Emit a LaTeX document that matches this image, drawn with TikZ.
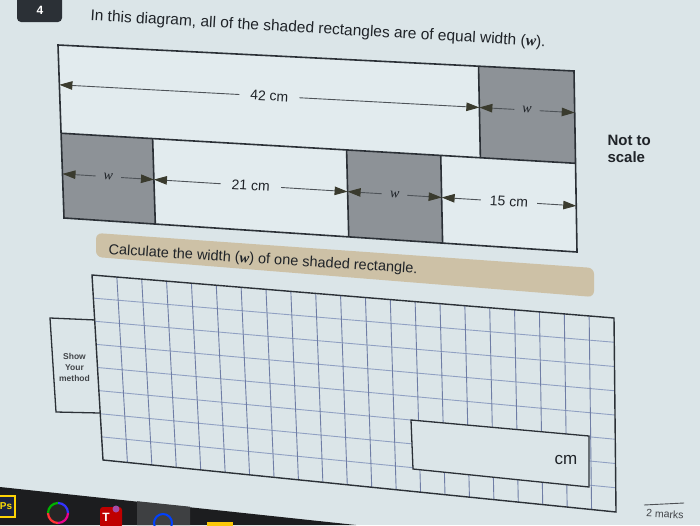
\documentclass[tikz,border=0pt]{standalone}
\usepackage{fontspec}
\setmainfont{Liberation Sans}
\newfontfamily\serifw{Liberation Serif}
\usetikzlibrary{calc,arrows.meta}
\definecolor{bg}{HTML}{DBE5E8}
\definecolor{wcol}{HTML}{E2EBEE}
\definecolor{shadec}{HTML}{8D9297}
\definecolor{bord}{HTML}{2B3036}
\definecolor{txt}{HTML}{1F2328}
\definecolor{lnc}{HTML}{4E5358}
\definecolor{tipc}{HTML}{3A3B2E}
\definecolor{bandc}{HTML}{CDC1A6}
\definecolor{gvc}{HTML}{6F7DA5}
\definecolor{ghc}{HTML}{90A0C2}
\definecolor{tbc}{HTML}{1C1D1F}
\definecolor{tbc2}{HTML}{3E4042}
\definecolor{psbg}{HTML}{1A2340}
\tikzset{
  bordln/.style={draw=bord, line width=1.6pt, line join=miter},
  dimln/.style={draw=lnc, line width=0.9pt,
    arrows={Triangle[length=13pt,width=8.5pt,color=tipc]-Triangle[length=13pt,width=8.5pt,color=tipc]}},
  dimlab/.style={sloped, text=txt, inner xsep=9pt, inner ysep=1pt, font=\fontsize{14}{16}\selectfont},
  wlab/.style={dimlab, inner xsep=8pt, font=\fontsize{14}{16}\selectfont\serifw\itshape},
  gv/.style={draw=gvc, line width=0.9pt},
  gh/.style={draw=ghc, line width=0.9pt},
}
\begin{document}
\begin{tikzpicture}[x=1pt,y=-1pt]
\useasboundingbox (0,0) rectangle (700,525);
\fill[bg] (0,0) rectangle (700,525);

% question number
\fill[bord, rounded corners=4pt] (17,-4) rectangle (62,22);
\node[text=white, font=\bfseries\fontsize{12}{14}\selectfont] (qn) at (40,10) {4};

% title
\node[rotate=-3.3, text=txt, font=\fontsize{15.5}{18}\selectfont] (title) at (318,29.5)
  {In this diagram, all of the shaded rectangles are of equal width ({\serifw\bfseries\itshape w}).};

% diagram corners
\coordinate (dTL) at (58,45);
\coordinate (dTR) at (574,71);
\coordinate (dBL) at (64,218);
\coordinate (dBR) at (577,252);
\coordinate (mL) at ($(dTL)!0.51!(dBL)$);
\coordinate (mR) at ($(dTR)!0.51!(dBR)$);
\coordinate (aL) at ($(dTL)!0.23!(dBL)$);
\coordinate (aR) at ($(dTR)!0.23!(dBR)$);
\coordinate (bL) at ($(dTL)!0.745!(dBL)$);
\coordinate (bR) at ($(dTR)!0.745!(dBR)$);
\coordinate (t0) at ($(dTL)!0.815!(dTR)$);
\coordinate (m0) at ($(mL)!0.815!(mR)$);
\coordinate (a0) at ($(aL)!0.815!(aR)$);
\coordinate (m1) at ($(mL)!0.178!(mR)$);
\coordinate (b1) at ($(dBL)!0.178!(dBR)$);
\coordinate (c1) at ($(bL)!0.178!(bR)$);
\coordinate (m2) at ($(mL)!0.555!(mR)$);
\coordinate (b2) at ($(dBL)!0.555!(dBR)$);
\coordinate (c2) at ($(bL)!0.555!(bR)$);
\coordinate (m3) at ($(mL)!0.738!(mR)$);
\coordinate (b3) at ($(dBL)!0.738!(dBR)$);
\coordinate (c3) at ($(bL)!0.738!(bR)$);

\fill[wcol] (dTL) -- (dTR) -- (dBR) -- (dBL) -- cycle;
\fill[shadec] (t0) -- (dTR) -- (mR) -- (m0) -- cycle;
\fill[shadec] (mL) -- (m1) -- (b1) -- (dBL) -- cycle;
\fill[shadec] (m2) -- (m3) -- (b3) -- (b2) -- cycle;
\draw[bordln] (dTL) -- (dTR) -- (dBR) -- (dBL) -- cycle;
\draw[bordln] (mL) -- (mR);
\draw[bordln] (t0) -- (m0);
\draw[bordln] (m1) -- (b1);
\draw[bordln] (m2) -- (b2);
\draw[bordln] (m3) -- (b3);

% dimension lines
\draw[dimln] (aL) -- node[dimlab, fill=wcol, inner xsep=11pt] {42 cm} (a0);
\draw[dimln] (a0) -- node[wlab, fill=shadec] {w} (aR);
\draw[dimln] (bL) -- node[wlab, fill=shadec] {w} (c1);
\draw[dimln] (c1) -- node[dimlab, fill=wcol, inner xsep=11pt] {21 cm} (c2);
\draw[dimln] (c2) -- node[wlab, fill=shadec] {w} (c3);
\draw[dimln] (c3) -- node[dimlab, fill=wcol] {15 cm} (bR);

% not to scale
\node[anchor=west, align=left, text=txt, font=\bfseries\fontsize{15}{17}\selectfont] (nts) at (604,148.5) {Not to\\scale};

% instruction band
\fill[bandc, rounded corners=6pt] (96,233) -- (594,268) -- (594,297) -- (96,257) -- cycle;
\node[rotate=-3.6, text=txt, font=\fontsize{14.5}{17}\selectfont] (calc) at (263,260)
  {Calculate the width ({\serifw\bfseries\itshape w}) of one shaded rectangle.};

% grid
\coordinate (gTL) at (92,275);
\coordinate (gTR) at (614,318);
\coordinate (gBR) at (616,512);
\coordinate (gBL) at (103,460);
\foreach \j in {1,...,7}
  \draw[gh] ($(gTL)!\j/8!(gBL)$) -- ($(gTR)!\j/8!(gBR)$);
\foreach \i in {1,...,20}
  \draw[gv] ($(gTL)!\i/21!(gTR)$) -- ($(gBL)!\i/21!(gBR)$);
\draw[draw=bord, line width=1.4pt] (gTL) -- (gTR) -- (gBR) -- (gBL) -- cycle;

% show your method tab
\coordinate (tabT) at ($(gTL)!0.243!(gBL)$);
\coordinate (tabB) at ($(gTL)!0.746!(gBL)$);
\coordinate (tab1) at (50,318);
\coordinate (tab2) at (56,412);
\draw[draw=bord, line width=1.3pt] (tabT) -- (tab1) -- (tab2) -- (tabB);
\node[align=center, text=txt!85, font=\bfseries\fontsize{8.5}{11}\selectfont] (sym) at (74.5,367) {Show\\Your\\method};

% answer box
\coordinate (ab1) at (411,420);
\coordinate (ab2) at (589,436);
\coordinate (ab3) at (589,487);
\coordinate (ab4) at (413,469);
\filldraw[fill=bg, draw=bord, line width=1.3pt] (ab1) -- (ab2) -- (ab3) -- (ab4) -- cycle;
\node[text=txt, font=\fontsize{17}{19}\selectfont] (cm) at (566,460) {cm};

% marks
\coordinate (mk1) at (644,505);
\coordinate (mk2) at (684,503);
\draw[draw=txt!80, line width=0.9pt] (mk1) -- (mk2);
\node[rotate=-3, text=txt!85, font=\fontsize{10.5}{12}\selectfont] (marks) at (665,514) {2 marks};

% taskbar
\fill[tbc] (0,487) -- (356,525) -- (0,525) -- cycle;
\fill[tbc2] (137,501.2) -- (190,506.7) -- (190,525) -- (137,525) -- cycle;
\filldraw[fill=psbg, draw=yellow!70!orange, line width=1.2pt] (-3,496) rectangle (15,517);
\node[text=yellow!80!orange, font=\bfseries\fontsize{10}{12}\selectfont] (ps) at (6,506.5) {Ps};
\fill[black!85] (58,513) circle (10);
\draw[red!80, line width=2.2pt] (58,513) ++(90:10) arc (90:180:10);
\draw[green!70!black, line width=2.2pt] (58,513) ++(180:10) arc (180:270:10);
\draw[blue!80, line width=2.2pt] (58,513) ++(270:10) arc (270:360:10);
\draw[magenta, line width=2.2pt] (58,513) ++(0:10) arc (0:90:10);
\fill[red!75!black, rounded corners=3pt] (100,507) rectangle (122,528);
\node[text=white, font=\bfseries\fontsize{12}{14}\selectfont] (tm) at (106,517) {T};
\fill[violet!70] (116,509) circle (3.5);
\draw[blue!75!cyan, line width=2pt] (163,523) circle (9);
\fill[yellow!60!orange] (207,521.5) rectangle (233,526);
\end{tikzpicture}
\end{document}
